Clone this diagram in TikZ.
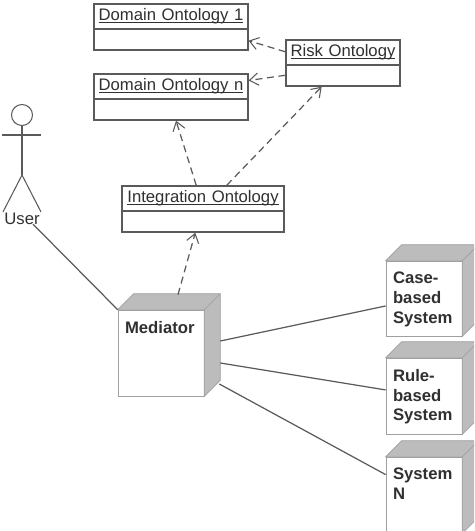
\documentclass[tikz,border=0pt]{standalone}
\usepackage{fontspec}
\setmainfont{Liberation Sans}
\usetikzlibrary{shapes,arrows.meta,positioning,calc}
\definecolor{cline}{HTML}{5a5a5a}
\definecolor{cface}{HTML}{bcbcbc}
\definecolor{cedge}{HTML}{a0a0a0}
\definecolor{ctext}{HTML}{303030}
\newcommand{\ultext}[1]{\setbox0\hbox{#1}\rlap{\rule[-1.1pt]{\wd0}{0.5pt}}\box0}
\newcommand{\emptypart}{\rule[-2.4pt]{0pt}{7.1pt}}
\newcommand{\cubefaces}[1]{
  \filldraw[cedge, fill=cface, line width=0.4pt] (#1.north west) -- ++(16,-16) -- ($(#1.north east)+(16,-16)$) -- ($(#1.south east)+(16,-16)$) -- (#1.south east) -- (#1.north east) -- cycle;
  \draw[cedge, line width=0.4pt] (#1.north east) -- ++(16,-16);
}

\begin{document}
\begin{tikzpicture}[
      x=0.02cm, y=-0.02cm,
      font=\fontsize{9.5}{11.3}\selectfont, text=ctext,
      classbox/.style={draw=cline, line width=0.7pt, fill=white, rectangle split, rectangle split parts=2,
        inner ysep=2.1pt, inner xsep=0pt, text height=7pt, text depth=2.4pt, align=center},
      cubebox/.style={draw=cedge, line width=0.4pt, fill=white, inner sep=0pt},
      cubetext/.style={anchor=north west, align=left, inner xsep=4pt, inner ysep=6.3pt, font=\fontsize{9.5}{11.3}\selectfont\bfseries, text=ctext},
      dep/.style={draw=cline, line width=0.7pt, dashed, dash pattern=on 4pt off 2.6pt, -{Straight Barb[length=5pt,width=7pt,line width=0.6pt]}},
      assoc/.style={draw=cline, line width=0.7pt},
      actor/.style={draw=cline, line width=0.6pt}
    ]
    \path[clip, use as bounding box] (0,0) rectangle (474,531);
    % ontology classes
    \node[classbox, text width=3.08cm] (dom1) at (171,27) {\ultext{Domain Ontology 1}\nodepart{two}\emptypart};
    \node[classbox, text width=3.08cm] (domn) at (171,97) {\ultext{Domain Ontology n}\nodepart{two}\emptypart};
    \node[classbox, text width=2.28cm] (risk) at (343,63) {\ultext{Risk Ontology}\nodepart{two}\emptypart};
    \node[classbox, text width=3.24cm] (integ) at (203,209) {\ultext{Integration Ontology}\nodepart{two}\emptypart};
    % actor
    \node[circle, actor, minimum size=0.42cm, inner sep=0pt] (head) at (22,115) {};
    \coordinate (hip) at (22,175);
    \coordinate (armL) at (2,135);
    \coordinate (armR) at (41,135);
    \coordinate (footL) at (3,212);
    \coordinate (footR) at (41,212);
    \draw[actor] (head.south) -- (hip);
    \draw[actor] (armL) -- (armR);
    \draw[actor] (footL) -- (hip) -- (footR);
    \node[inner sep=0pt] (user) at (22,219) {User};
    % nodes
    \node[cubebox, minimum width=1.72cm, minimum height=1.72cm, label={[cubetext]north west:Mediator}] (med) at (161,353) {};
    \cubefaces{med}
    \node[cubebox, minimum width=1.52cm, minimum height=1.5cm, label={[cubetext]north west:Case-\\based\\System}] (cbs) at (424,298.5) {};
    \cubefaces{cbs}
    \node[cubebox, minimum width=1.52cm, minimum height=1.52cm, label={[cubetext]north west:Rule-\\based\\System}] (rbs) at (424,396) {};
    \cubefaces{rbs}
    \node[cubebox, minimum width=1.52cm, minimum height=1.52cm, label={[cubetext]north west:System\\N}] (sysn) at (424,495) {};
    \cubefaces{sysn}
    % links
    \draw[dep] (risk.169) -- (dom1.-10);
    \draw[dep] (risk.192) -- (domn.12);
    \draw[dep] (integ.106) -- (domn.-78);
    \draw[dep] (integ.45) -- (risk.228);
    \draw[dep] ($(med.north)+(17,-15)$) -- (integ.252);
    \draw[assoc] ($(user.south)+(11,-1)$) -- (med.north west);
    \draw[assoc] ($(med.east)+(16,-12)$) -- (cbs.191);
    \draw[assoc] ($(med.east)+(16,10)$) -- (rbs.171);
    \draw[assoc] ($(med.east)+(15,31)$) -- (sysn.152);
  \end{tikzpicture}
\end{document}
